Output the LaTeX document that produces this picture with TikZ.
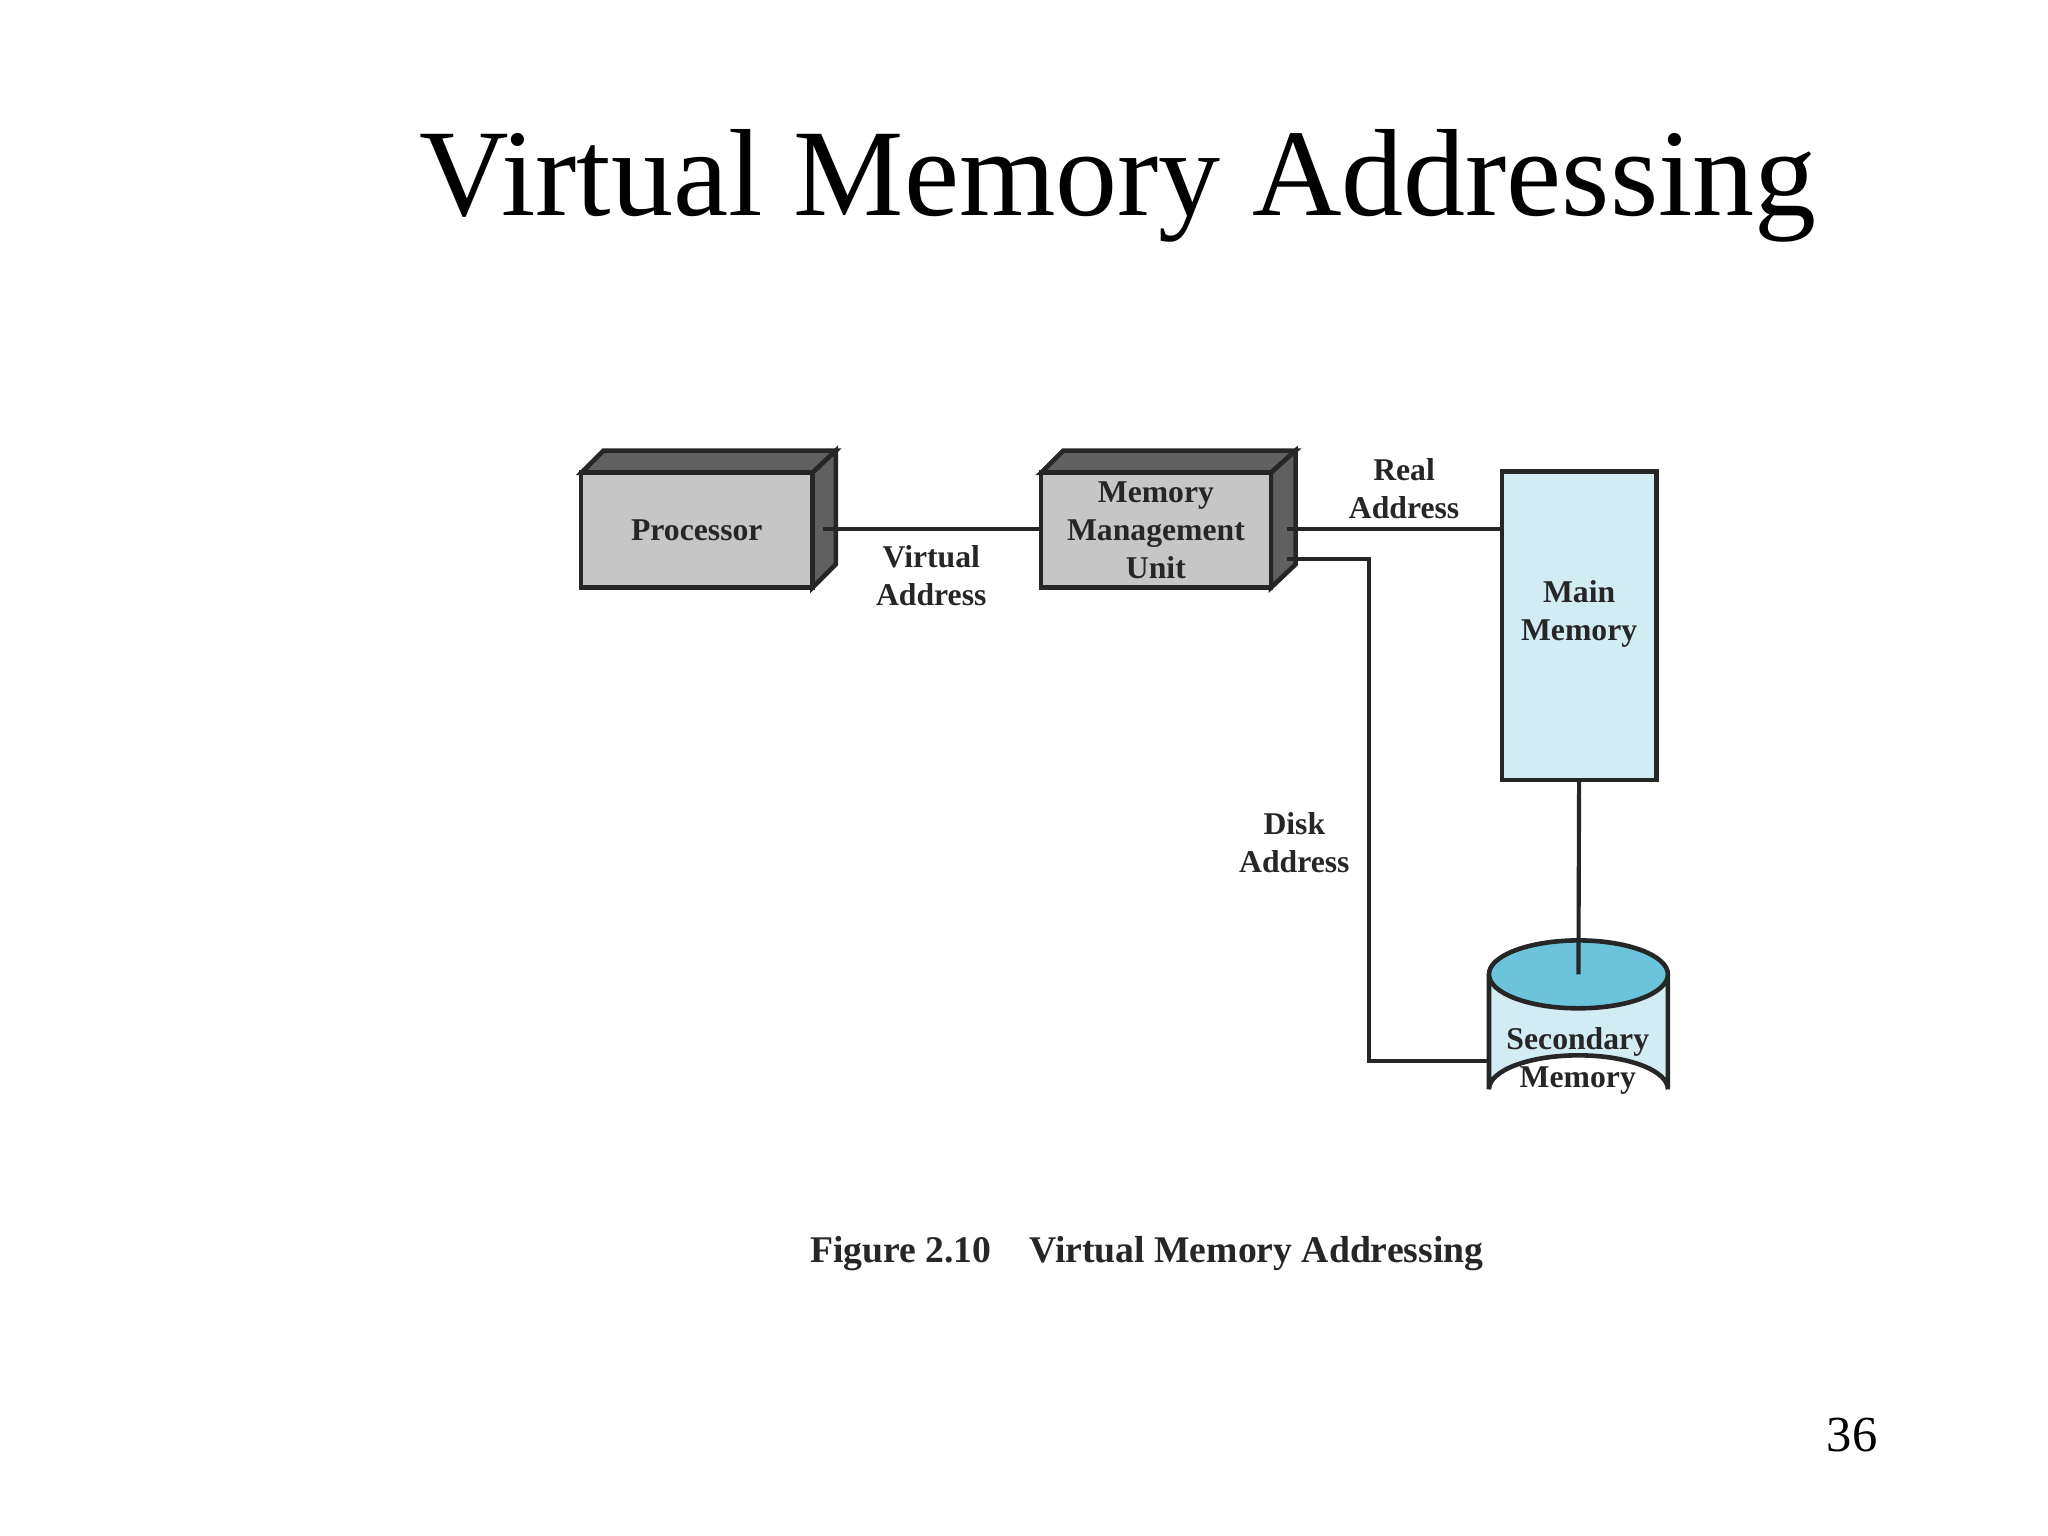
\documentclass[tikz,border=0pt]{standalone}
\usepackage{fontspec}
\setmainfont{Liberation Serif}
\definecolor{cyltop}{HTML}{6BC4DC}
\definecolor{lblue}{HTML}{D2ECF3}
\begin{document}
\begin{tikzpicture}[x=0.01cm,y=-0.01cm,
  lbl/.style={font=\bfseries\fontsize{6.9}{8.3}\selectfont,align=center,text=black!85},
  ln/.style={line width=0.9pt,draw=black!85},
  face/.style={fill=gray!45,draw=black!85,line width=1pt},
  side/.style={fill=gray!75!black,draw=black!85,line width=1pt},
  blue/.style={fill=lblue,draw=black!85,line width=1pt}]
\useasboundingbox (0,0) rectangle (1568,1176);
\node[font=\fontsize{27}{32}\selectfont] (title) at (856,142) {Virtual Memory Addressing};
% Processor
\draw[side] (445,362) -- (462,345) -- (640,345) -- (622,362) -- cycle;
\draw[side] (622,362) -- (640,345) -- (640,432) -- (622,450) -- cycle;
\node[face,minimum width=1.77cm,minimum height=0.88cm,inner sep=0pt,lbl] (proc) at (533.5,406) {Processor};
% MMU
\draw[side] (797,362) -- (814,345) -- (992,345) -- (973,362) -- cycle;
\draw[side] (973,362) -- (992,345) -- (992,432) -- (973,450) -- cycle;
\node[face,minimum width=1.76cm,minimum height=0.88cm,inner sep=0pt,lbl] (mmu) at (885,406) {Memory\\Management\\Unit};
% Main memory
\node[blue,minimum width=1.18cm,minimum height=2.36cm,inner sep=0pt] (mm) at (1209,479) {};
\node[lbl] (mmt) at (1209,470) {Main\\Memory};
% Secondary memory cylinder
\draw[blue] (1140,746) -- (1140,834) arc[start angle=180,end angle=360,x radius=68.5,y radius=26] -- (1277,746);
\draw[line width=1pt,draw=black!85,fill=cyltop] (1208.5,746) ellipse[x radius=68.5,y radius=26];
\coordinate (sec) at (1208.5,746);
\coordinate (secl) at (1140,812);
\node[lbl] (sect) at (1208,812) {Secondary\\Memory};
% connectors
\coordinate (p1) at (630,405);
\coordinate (m1) at (985,405);
\coordinate (m2) at (985,428);
\draw[ln] (p1) -- (mmu.west |- p1);
\draw[ln] (m1) -- (mm.west |- m1);
\draw[ln] (m2) -- (1048,428) -- (1048,812) -- (secl);
\draw[ln] (mm.south) -- (sec);
% labels
\node[lbl] (va) at (713,441) {Virtual\\Address};
\node[lbl] (ra) at (1075,374) {Real\\Address};
\node[lbl] (da) at (991,645) {Disk\\Address};
\node[font=\bfseries\fontsize{8.2}{10}\selectfont,text=black!85] (cap) at (878,960) {Figure 2.10\quad Virtual Memory Addressing};
\node[font=\fontsize{11}{13}\selectfont] (num) at (1418,1099) {36};
\end{tikzpicture}
\end{document}
